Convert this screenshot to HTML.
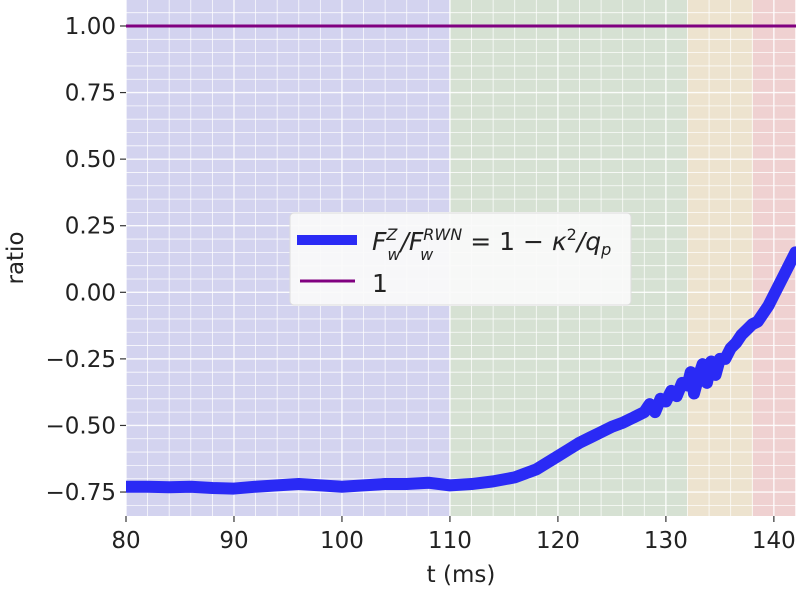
<!DOCTYPE html>
<html><head><meta charset="utf-8"><style>
body{margin:0;background:#fff;}
svg text{font-family:"DejaVu Sans","Liberation Sans",sans-serif;fill:#222;}
</style></head><body>
<svg id="chart" width="800" height="589" xmlns="http://www.w3.org/2000/svg"><defs><clipPath id="pc"><rect x="126" y="0" width="670" height="516"/></clipPath></defs></svg>
<script>
const xTicks=[80,90,100,110,120,130,140];
const yTicks=[-0.75,-0.5,-0.25,0,0.25,0.5,0.75,1.0];
const yTickLabels=["\u22120.75","\u22120.50","\u22120.25","0.00","0.25","0.50","0.75","1.00"];
const regionStarts=[80,110,132,138.06];
const regionEnds=[110,132,138.06,142.05];
const regionColors=["#d3d3ef","#d6e1d3","#ede3cf","#efd1d1"];
const seriesT=[80,82,84,86,88,90,92,94,96,98,100,102,104,106,108,110,112,114,116,117,118,119,120,121,122,123,124,125,126,127,128,128.5,129,129.5,130,130.5,131,131.5,132,132.3,132.6,133,133.4,133.8,134.2,134.6,135,135.5,136,136.5,137,137.5,138,138.5,139,139.5,140,140.5,141,141.5,142];
const seriesV=[-0.73,-0.73,-0.732,-0.73,-0.735,-0.737,-0.73,-0.725,-0.72,-0.725,-0.73,-0.725,-0.72,-0.72,-0.715,-0.725,-0.72,-0.71,-0.695,-0.68,-0.665,-0.64,-0.615,-0.59,-0.565,-0.545,-0.525,-0.505,-0.49,-0.47,-0.45,-0.42,-0.45,-0.40,-0.41,-0.37,-0.39,-0.34,-0.35,-0.30,-0.38,-0.32,-0.27,-0.34,-0.26,-0.31,-0.25,-0.25,-0.21,-0.19,-0.16,-0.14,-0.12,-0.11,-0.08,-0.05,-0.01,0.03,0.07,0.11,0.15];
const W=800,H=589,L=126,R=796,T=0,B=516,xMin=80,xMax=142.05,yMin=-0.84,yMax=1.0976;
const sx=v=>L+(v-xMin)/(xMax-xMin)*(R-L);
const sy=v=>B-(v-yMin)/(yMax-yMin)*(B-T);
const svg=document.getElementById('chart');const NS='http://www.w3.org/2000/svg';
function mk(tag,attrs,parent){const e=document.createElementNS(NS,tag);for(const k in attrs)e.setAttribute(k,attrs[k]);(parent||svg).appendChild(e);return e;}
for(let i=0;i<regionStarts.length;i++){
 const r=mk('rect',{x:sx(regionStarts[i]),y:T,width:sx(regionEnds[i])-sx(regionStarts[i]),height:B-T,fill:regionColors[i]});
 
 
}
for(let t=80;t<=142;t+=2){const l=mk('line',{x1:sx(t),x2:sx(t),y1:T,y2:B,stroke:'#fff','stroke-width':t%10==0?1.4:0.8,opacity:0.9});
 }
for(let k=-16;k<=21;k++){const v=k*0.05;if(v<yMin||v>yMax)continue;const l=mk('line',{x1:L,x2:R,y1:sy(v),y2:sy(v),stroke:'#fff','stroke-width':k%5==0?1.4:0.8,opacity:0.9});
 }
const one=mk('line',{x1:L,x2:R,y1:sy(1),y2:sy(1),stroke:'#800080','stroke-width':3});

const p=mk('polyline',{points:seriesT.map((t,i)=>sx(t)+','+sy(seriesV[i])).join(' '),fill:'none',stroke:'#2a2af5','stroke-width':12,'stroke-linejoin':'round','stroke-linecap':'round','clip-path':'url(#pc)'});

xTicks.forEach(t=>{mk('line',{x1:sx(t),x2:sx(t),y1:B,y2:B+6,stroke:'#333','stroke-width':1.2});
 const tx=mk('text',{x:sx(t),y:B+32,'text-anchor':'middle','font-size':23});tx.textContent=t;
 });
yTicks.forEach((v,i)=>{mk('line',{x1:L-6,x2:L,y1:sy(v),y2:sy(v),stroke:'#333','stroke-width':1.2});
 const tx=mk('text',{x:L-10,y:sy(v)+8,'text-anchor':'end','font-size':23});tx.textContent=yTickLabels[i];
 });
</script>
<svg style="position:absolute;left:0;top:0" width="800" height="589">
<text x="461" y="582" text-anchor="middle" font-size="23">t (ms)</text>
<text transform="translate(23,258) rotate(-90)" text-anchor="middle" font-size="23">ratio</text>
<g>
<rect x="290" y="213" width="341" height="92" rx="4" fill="#fafafa" fill-opacity="0.92" stroke="#ddd"/>
<line x1="297" y1="240" x2="357" y2="240" stroke="#2a2af5" stroke-width="10"/>
<text x="372" y="250" font-size="25" font-style="italic">F<tspan font-size="16" dy="-10">Z</tspan><tspan font-size="16" dx="-10" dy="20">w</tspan><tspan dy="-10">/F</tspan><tspan font-size="16" dy="-10">RWN</tspan><tspan font-size="16" dx="-42" dy="20">w</tspan><tspan dx="29" dy="-10" font-style="normal"> = 1 − </tspan>κ<tspan font-size="16" dy="-10" font-style="normal">2</tspan><tspan dy="10">/q</tspan><tspan font-size="16" dy="5">p</tspan></text>
<line x1="300" y1="281" x2="355" y2="281" stroke="#800080" stroke-width="3"/>
<text x="372" y="292" font-size="25">1</text>
</g>
</svg>
</body></html>
